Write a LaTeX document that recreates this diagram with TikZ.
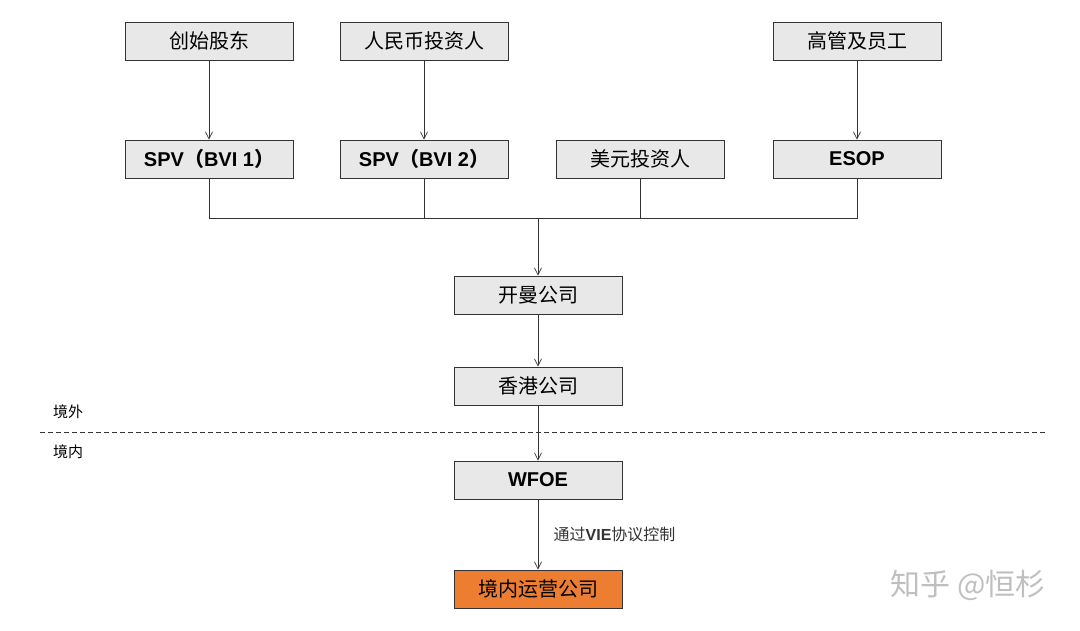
\documentclass[tikz,border=0pt]{standalone}
\usepackage{fontspec}
\setmainfont{Liberation Sans}
\newfontfamily\cjk{Noto Sans CJK SC}
\usetikzlibrary{arrows.meta}
\definecolor{boxgray}{HTML}{E8E8E8}
\definecolor{orangebox}{HTML}{ED7D31}
\begin{document}
\begin{tikzpicture}[x=1pt,y=-1pt,
 box/.style={draw=black!80,line width=0.8pt,fill=boxgray,minimum width=168pt,minimum height=38pt,inner sep=0pt,font=\fontsize{20}{22}\selectfont\cjk},
 bbox/.style={box,font=\fontsize{20}{22}\selectfont\bfseries},
 arr/.style={-{Straight Barb[length=7pt,width=7pt]},line width=0.7pt,black!80},
 ln/.style={line width=0.7pt,black!80}]
\useasboundingbox (0,0) rectangle (1080,630);
\node[box] (a) at (209,41) {创始股东};
\node[box] (b) at (424,41) {人民币投资人};
\node[box] (c) at (857,41) {高管及员工};
\node[bbox] (d) at (209,159) {SPV{\cjk（}BVI 1{\cjk）}};
\node[bbox] (e) at (424,159) {SPV{\cjk（}BVI 2{\cjk）}};
\node[box] (f) at (640,159) {美元投资人};
\node[bbox] (g) at (857,159) {ESOP};
\node[box] (h) at (538,295) {开曼公司};
\node[box] (i) at (538,386) {香港公司};
\node[bbox] (j) at (538,480) {WFOE};
\node[box,fill=orangebox] (k) at (538,589) {境内运营公司};
\coordinate (bus) at (538,218);
\draw[arr] (a) -- (d);
\draw[arr] (b) -- (e);
\draw[arr] (c) -- (g);
\draw[ln] (d.south) |- (bus);
\draw[ln] (g.south) |- (bus);
\draw[ln] (e.south) -- (e.south |- bus);
\draw[ln] (f.south) -- (f.south |- bus);
\draw[arr] (bus) -- (h);
\draw[arr] (h) -- (i);
\draw[arr] (i) -- (j);
\draw[arr] (j) -- node[right=12pt,font=\fontsize{16}{18}\selectfont\cjk]{通过{\rmfamily\bfseries VIE}协议控制} (k);
\draw[dashed,line width=0.7pt,black!80,dash pattern=on 5pt off 3pt] (40,432) -- (1045,432);
\node[font=\fontsize{15}{16}\selectfont\cjk] at (68,412) {境外};
\node[font=\fontsize{15}{16}\selectfont\cjk] at (68,452) {境内};
\node[font=\fontsize{30}{32}\selectfont\cjk,text=black!25] at (968,585) {知乎 @恒杉};
\end{tikzpicture}
\end{document}
